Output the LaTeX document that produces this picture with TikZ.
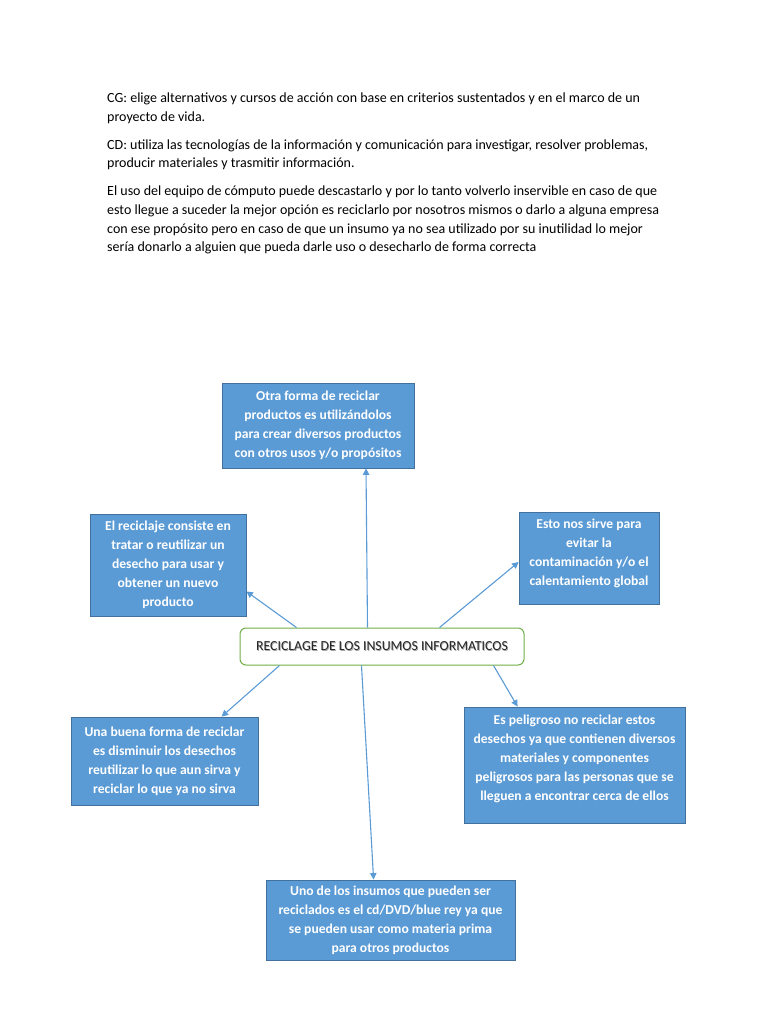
\documentclass[tikz,border=0pt]{standalone}
\usepackage{fontspec}
\setmainfont{Carlito}
\usetikzlibrary{arrows.meta}
\definecolor{boxfill}{HTML}{5B9BD5}
\definecolor{boxdraw}{HTML}{41719C}
\definecolor{cgreen}{HTML}{70AD47}
\tikzset{
  bluebox/.style={draw=boxdraw, fill=boxfill, line width=0.8pt, text=white, align=center, font=\bfseries\fontsize{13.6}{19}\selectfont, inner sep=2pt},
  arr/.style={draw=boxfill, line width=1.1pt, -{Triangle[length=6.5pt,width=6.5pt]}},
}
\newcommand{\shadowtext}[1]{\rlap{\kern0.8pt\raisebox{-0.8pt}{\textcolor{black!35}{#1}}}#1}
\begin{document}
\begin{tikzpicture}[x=1pt,y=-1pt]
\useasboundingbox (0,0) rectangle (768,1024);
\node[anchor=north west, align=left, font=\fontsize{14}{18.6}\selectfont, text=black, inner sep=0pt] (hdr) at (107,92.5)
{CG: elige alternativos y cursos de acción con base en criterios sustentados y en el marco de un\\
proyecto de vida.\\[9.5pt]
CD: utiliza las tecnologías de la información y comunicación para investigar, resolver problemas,\\
producir materiales y trasmitir información.\\[9.5pt]
El uso del equipo de cómputo puede descastarlo y por lo tanto volverlo inservible en caso de que\\
esto llegue a suceder la mejor opción es reciclarlo por nosotros mismos o darlo a alguna empresa\\
con ese propósito pero en caso de que un insumo ya no sea utilizado por su inutilidad lo mejor\\
sería donarlo a alguien que pueda darle uso o desecharlo de forma correcta};

\node[bluebox, minimum width=192, minimum height=85] (top) at (318,425.5)
{Otra forma de reciclar\\productos es utilizándolos\\para crear diversos productos\\con otros usos y/o propósitos};
\node[bluebox, minimum width=156, minimum height=102] (l1) at (168,565)
{El reciclaje consiste en\\tratar o reutilizar un\\desecho para usar y\\obtener un nuevo\\producto};
\node[bluebox, minimum width=140, minimum height=92] (r1) at (589,558)
{\parbox{134pt}{\centering Esto nos sirve para\\evitar la\\contaminación y/o el\\calentamiento global\par\vspace*{10pt}}};
\node[draw=cgreen, line width=1pt, rounded corners=6pt, fill=white, minimum width=284, minimum height=37, font=\fontsize{13.8}{16}\selectfont, text=black!85] (c) at (382,646.5)
{\shadowtext{RECICLAGE DE LOS INSUMOS INFORMATICOS}};
\node[bluebox, minimum width=187, minimum height=88] (l2) at (164.5,761)
{Una buena forma de reciclar\\es disminuir los desechos\\reutilizar lo que aun sirva y\\reciclar lo que ya no sirva};
\node[bluebox, minimum width=221, minimum height=116] (r2) at (574.5,765)
{\parbox{217pt}{\centering Es peligroso no reciclar estos\\desechos ya que contienen diversos\\materiales y componentes\\peligrosos para las personas que se\\lleguen a encontrar cerca de ellos\par\vspace*{12pt}}};
\node[bluebox, minimum width=249, minimum height=80] (b) at (390.5,920)
{Uno de los insumos que pueden ser\\reciclados es el cd/DVD/blue rey ya que\\se pueden usar como materia prima\\para otros productos};

\draw[arr] ([xshift=128]c.north west) -- ([xshift=48]top.south);
\draw[arr] ([xshift=57]c.north west) -- ([yshift=25]l1.south east);
\draw[arr] ([xshift=200]c.north west) -- ([yshift=-4]r1.west);
\draw[arr] ([xshift=40]c.south west) -- ([xshift=151]l2.north west);
\draw[arr] ([xshift=122]c.south west) -- ([xshift=108]b.north west);
\draw[arr] ([xshift=254]c.south west) -- ([xshift=54]r2.north west);
\end{tikzpicture}
\end{document}
